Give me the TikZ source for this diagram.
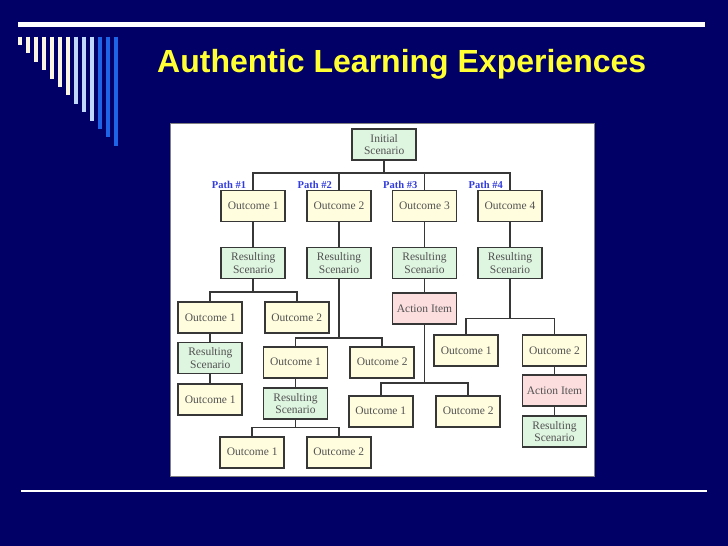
\documentclass[tikz,border=0pt]{standalone}
\usepackage{fontspec}
\setmainfont{Liberation Serif}
\newfontfamily\titlefont{Liberation Sans}
\usetikzlibrary{positioning}

\definecolor{slidebg}{RGB}{0,0,102}
\definecolor{titleyellow}{RGB}{255,255,51}
\definecolor{barcream}{RGB}{250,245,225}
\definecolor{barlight}{RGB}{190,215,250}
\definecolor{barblue}{RGB}{30,100,230}
\definecolor{scengreen}{RGB}{222,245,224}
\definecolor{outyellow}{RGB}{255,253,222}
\definecolor{actpink}{RGB}{252,222,222}
\definecolor{boxline}{RGB}{55,55,55}
\definecolor{pathblue}{RGB}{50,60,220}

\tikzset{
  box/.style={draw=boxline, line width=1.8pt, minimum width=64pt, minimum height=31pt,
    inner sep=1pt, align=center, text=black!68, font=\fontsize{11.5}{12.5}\selectfont},
  scen/.style={box, fill=scengreen},
  outc/.style={box, fill=outyellow},
  actn/.style={box, fill=actpink},
  link/.style={draw=boxline, line width=1.7pt},
  pathlbl/.style={text=pathblue, font=\bfseries\fontsize{10.5}{11}\selectfont, inner sep=0pt}
}

\begin{document}
\begin{tikzpicture}[x=1pt, y=-1pt]
                    \useasboundingbox (0,0) rectangle (728,546);
                    \fill[slidebg] (0,0) rectangle (728,546);%

                    % Drawing rule on top and rule at bottom
                    \fill[white] (18,22) rectangle (705,27);%
                    \draw[white, line width=1.5pt] (21,491) -- (707,491);%

                    % Drawing bars on the left
                    \foreach \i in {0,...,6}
                      \draw[barcream, line width=3.3pt] (20+8*\i,36.5) -- (20+8*\i,45+8.4*\i);%
                    \foreach \i in {7,...,9}
                      \draw[barlight, line width=3.3pt] (20+8*\i,36.5) -- (20+8*\i,45+8.4*\i);%
                    \foreach \i in {10,...,12}
                      \draw[barblue, line width=3.3pt] (20+8*\i,36.5) -- (20+8*\i,45+8.4*\i);%

                    % Marking title
                    \node[anchor=base west, inner sep=0pt, text=titleyellow,
                      font=\titlefont\bfseries\fontsize{32}{36}\selectfont] (title) at (157,72)
                      {Authentic Learning Experiences};%

                    % Drawing white panel
                    \draw[fill=white, draw=gray, line width=0.8pt] (170,123) rectangle (594,476);%

                    % Marking boxes of the first two rows
                    \node[scen] (init) at (384.2,144.5) {Initial\\Scenario};%
                    \node[outc] (o1) at (253.2,206) {Outcome 1};%
                    \node[outc] (o2) at (339,206) {Outcome 2};%
                    \node[outc] (o3) at (424.5,206) {Outcome 3};%
                    \node[outc] (o4) at (510,206) {Outcome 4};%
                    \node[scen] (rs1) at (253.2,263) {Resulting\\Scenario};%
                    \node[scen] (rs2) at (339,263) {Resulting\\Scenario};%
                    \node[scen] (rs3) at (424.5,263) {Resulting\\Scenario};%
                    \node[scen] (rs4) at (510,263) {Resulting\\Scenario};%

                    % Marking path labels
                    \node[pathlbl, above left=1pt and 7pt of o1.north] (lbl1) {Path \#1};%
                    \node[pathlbl, above left=1pt and 7pt of o2.north] (lbl2) {Path \#2};%
                    \node[pathlbl, above left=1pt and 7pt of o3.north] (lbl3) {Path \#3};%
                    \node[pathlbl, above left=1pt and 7pt of o4.north] (lbl4) {Path \#4};%

                    % Marking boxes of path 1
                    \node[outc] (p1o1) at (210.3,317.5) {Outcome 1};%
                    \node[outc] (p1o2) at (296.7,317.5) {Outcome 2};%
                    \node[scen] (p1rs) at (210.3,357.9) {Resulting\\Scenario};%
                    \node[outc] (p1o3) at (210.3,399.5) {Outcome 1};%

                    % Marking boxes of path 2
                    \node[outc] (p2o1) at (295.5,362.2) {Outcome 1};%
                    \node[outc] (p2o2) at (382.2,362.2) {Outcome 2};%
                    \node[scen] (p2rs) at (295.5,403.7) {Resulting\\Scenario};%
                    \node[outc] (p2o3) at (252.2,452.2) {Outcome 1};%
                    \node[outc] (p2o4) at (338.8,452.2) {Outcome 2};%

                    % Marking boxes of path 3
                    \node[actn] (p3act) at (424.5,308.8) {Action Item};%
                    \node[outc] (p3o1) at (380.8,411.2) {Outcome 1};%
                    \node[outc] (p3o2) at (468.2,411.2) {Outcome 2};%

                    % Marking boxes of path 4
                    \node[outc] (p4o1) at (466.2,350.5) {Outcome 1};%
                    \node[outc] (p4o2) at (554.5,350.5) {Outcome 2};%
                    \node[actn] (p4act) at (554.5,390.8) {Action Item};%
                    \node[scen] (p4rs) at (554.5,431.7) {Resulting\\Scenario};%

                    % Drawing links from the initial scenario
                    \foreach \n in {o1,o2,o3,o4}
                      \draw[link] (init.south) -- ++(0,12) -| (\n.north);%
                    \foreach \n in {1,2,3,4}
                      \draw[link] (o\n.south) -- (rs\n.north);%

                    % Drawing links of path 1
                    \foreach \n in {p1o1,p1o2}
                      \draw[link] (rs1.south) -- ++(0,12.4) -| (\n.north);%
                    \draw[link] (p1o1.south) -- (p1rs.north);%
                    \draw[link] (p1rs.south) -- (p1o3.north);%

                    % Drawing links of path 2
                    \foreach \n in {p2o1,p2o2}
                      \draw[link] (rs2.south) -- ++(0,58.4) -| (\n.north);%
                    \draw[link] (p2o1.south) -- (p2rs.north);%
                    \foreach \n in {p2o3,p2o4}
                      \draw[link] (p2rs.south) -- ++(0,7.3) -| (\n.north);%

                    % Drawing links of path 3
                    \draw[link] (rs3.south) -- (p3act.north);%
                    \foreach \n in {p3o1,p3o2}
                      \draw[link] (p3act.south) -- ++(0,57.7) -| (\n.north);%

                    % Drawing links of path 4
                    \foreach \n in {p4o1,p4o2}
                      \draw[link] (rs4.south) -- ++(0,39) -| (\n.north);%
                    \draw[link] (p4o2.south) -- (p4act.north);%
                    \draw[link] (p4act.south) -- (p4rs.north);%
\end{tikzpicture}
\end{document}
